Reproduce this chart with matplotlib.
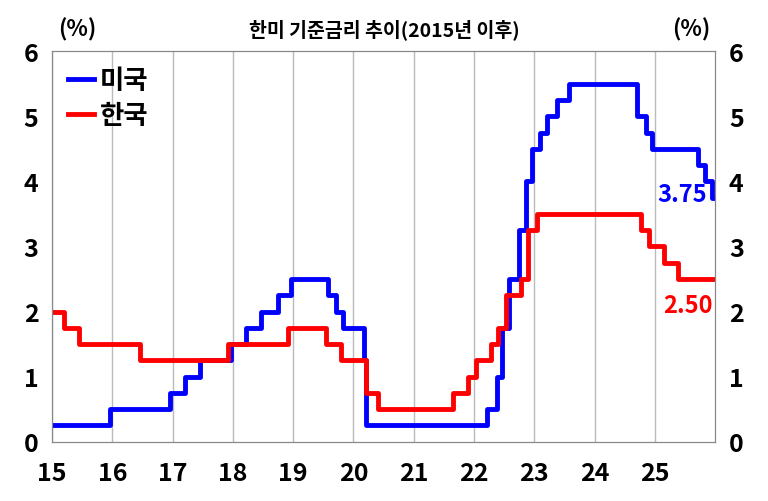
import matplotlib
matplotlib.use('Agg')
import matplotlib.pyplot as plt

plt.rcParams['font.family'] = ['Noto Sans CJK KR', 'DejaVu Sans']

# ── Data (decimal year of change, new rate) ──────────────────────────
us_t = [2015.0, 2015.96, 2016.96, 2017.2, 2017.46, 2017.96, 2018.22, 2018.46,
        2018.74, 2018.97, 2019.58, 2019.71, 2019.83, 2020.17, 2020.21, 2022.21,
        2022.38, 2022.46, 2022.58, 2022.75, 2022.87, 2022.96, 2023.09, 2023.21,
        2023.38, 2023.57, 2024.71, 2024.85, 2024.96, 2025.71, 2025.83, 2025.95]
us_r = [0.25, 0.5, 0.75, 1.0, 1.25, 1.5, 1.75, 2.0,
        2.25, 2.5, 2.25, 2.0, 1.75, 1.25, 0.25, 0.5,
        1.0, 1.75, 2.5, 3.25, 4.0, 4.5, 4.75, 5.0,
        5.25, 5.5, 5.0, 4.75, 4.5, 4.25, 4.0, 3.75]
kr_t = [2015.0, 2015.2, 2015.45, 2016.45, 2017.91, 2018.91, 2019.55, 2019.8,
        2020.21, 2020.41, 2021.65, 2021.9, 2022.04, 2022.28, 2022.4, 2022.53,
        2022.78, 2022.9, 2023.04, 2024.78, 2024.91, 2025.15, 2025.38]
kr_r = [2.0, 1.75, 1.5, 1.25, 1.5, 1.75, 1.5, 1.25,
        0.75, 0.5, 0.75, 1.0, 1.25, 1.5, 1.75, 2.25,
        2.5, 3.25, 3.5, 3.25, 3.0, 2.75, 2.5]
x_end = 2026.0
years = list(range(2015, 2026))
year_labels = [str(y % 100) for y in years]

fig, ax = plt.subplots(figsize=(7.68, 5.02), dpi=100)
fig.subplots_adjust(left=0.068, right=0.931, top=0.896, bottom=0.118)

ax.step(us_t + [x_end], us_r + [us_r[-1]], where='post', color='#0000ff', lw=3.5, label='미국')
ax.step(kr_t + [x_end], kr_r + [kr_r[-1]], where='post', color='#ff0000', lw=3.5, label='한국')

ax.set_xlim(2015, x_end)
ax.set_ylim(0, 6)
ax.set_xticks(years)
ax.set_xticklabels(year_labels)
ax.xaxis.grid(True, color='#bbbbbb', lw=1)
ax.tick_params(axis='both', labelsize=18, length=0, pad=10)
ax.tick_params(axis='x', pad=14)
for lb in ax.get_xticklabels() + ax.get_yticklabels():
    lb.set_fontweight('bold')
ax.set_yticks(range(7))

ax2 = ax.twinx()
ax2.set_ylim(0, 6)
ax2.set_yticks(range(7))
ax2.tick_params(labelsize=18, length=0, pad=10)
for lb in ax2.get_yticklabels():
    lb.set_fontweight('bold')

for a in (ax, ax2):
    for s in a.spines.values():
        s.set_color('#888888')

ax.legend(loc='upper left', frameon=False, handlelength=1.0,
          handletextpad=0.2, borderaxespad=0.2, labelspacing=0.3,
          prop={'size': 19, 'weight': 'bold'})

ax.text(2025.45, 3.8, '3.75', color='#0000ff', fontsize=17, fontweight='bold', ha='center', va='center')
ax.text(2025.55, 2.1, '2.50', color='#ff0000', fontsize=17, fontweight='bold', ha='center', va='center')

fig.text(0.5, 0.94, '한미 기준금리 추이(2015년 이후)', ha='center', va='center', fontsize=14, fontweight='bold')
fig.text(0.1, 0.94, '(%)', ha='center', va='center', fontsize=16, fontweight='bold')
fig.text(0.9, 0.94, '(%)', ha='center', va='center', fontsize=16, fontweight='bold')

fig.savefig('out.png', dpi=100)
